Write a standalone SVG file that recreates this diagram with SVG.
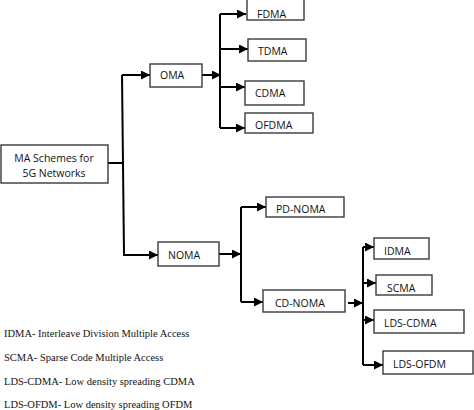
<svg xmlns="http://www.w3.org/2000/svg" width="474" height="410" viewBox="0 0 474 410">
<defs>
<marker id="ah" markerUnits="userSpaceOnUse" markerWidth="9" markerHeight="9" viewBox="0 0 9 9" refX="9" refY="4.5" orient="auto">
<path d="M0,0 L9,4.5 L0,9 Z" fill="#000"/>
</marker>
</defs>
<style>
.box{fill:#fff;stroke:#3a3a3a;stroke-width:1.4}
.lbl{font-family:"Open Sans","Liberation Sans",sans-serif;font-size:10.5px;fill:#111}
.leg{font-family:"Liberation Serif",serif;font-size:10.5px;fill:#111}
.ln{stroke:#000;stroke-width:2;fill:none}
.ar{stroke:#000;stroke-width:2;fill:none;marker-end:url(#ah)}
</style>
<rect width="474" height="410" fill="#fff"/>
<g id="connectors">
<path class="ln" d="M108,163 H123"/>
<path class="ln" d="M122,75 L124,255"/>
<path class="ar" d="M122,75 H150"/>
<path class="ar" d="M123,255 H158"/>
<path class="ar" d="M202,75 H221"/>
<path class="ln" d="M220,14 V128"/>
<path class="ar" d="M220,14 H246"/>
<path class="ar" d="M220,49 H248"/>
<path class="ar" d="M220,87 H245"/>
<path class="ar" d="M220,128 H245"/>
<path class="ar" d="M219,254 H241"/>
<path class="ln" d="M241,207 V302"/>
<path class="ar" d="M241,207 H266"/>
<path class="ar" d="M241,302 H263"/>
<path class="ar" d="M348,303 H363"/>
<path class="ln" d="M363,247 V365"/>
<path class="ar" d="M363,247 H374"/>
<path class="ar" d="M363,283 H376"/>
<path class="ar" d="M363,320 H374"/>
<path class="ar" d="M363,365 H383"/>
</g>
<g id="ma"><rect class="box" x="1" y="145" width="107" height="38"/><text class="lbl" x="54" y="162" text-anchor="middle">MA Schemes for</text><text class="lbl" x="54" y="177" text-anchor="middle">5G Networks</text></g>
<g id="oma"><rect class="box" x="150" y="64" width="52" height="23"/><text class="lbl" x="160" y="79">OMA</text></g>
<g id="fdma"><rect class="box" x="247" y="-5" width="57" height="25"/><text class="lbl" x="257" y="18">FDMA</text></g>
<g id="tdma"><rect class="box" x="248" y="39" width="58" height="22"/><text class="lbl" x="258" y="55">TDMA</text></g>
<g id="cdma"><rect class="box" x="245" y="81" width="59" height="24"/><text class="lbl" x="255" y="97">CDMA</text></g>
<g id="ofdma"><rect class="box" x="245" y="113" width="68" height="20"/><text class="lbl" x="255" y="129">OFDMA</text></g>
<g id="noma"><rect class="box" x="158" y="242" width="61" height="24"/><text class="lbl" x="168" y="259">NOMA</text></g>
<g id="pdnoma"><rect class="box" x="266" y="197" width="78" height="20"/><text class="lbl" x="276" y="213">PD-NOMA</text></g>
<g id="cdnoma"><rect class="box" x="263" y="290" width="82" height="22"/><text class="lbl" x="275" y="307">CD-NOMA</text></g>
<g id="idma"><rect class="box" x="374" y="238" width="55" height="21"/><text class="lbl" x="384" y="255">IDMA</text></g>
<g id="scma"><rect class="box" x="376" y="275" width="56" height="20"/><text class="lbl" x="387" y="292">SCMA</text></g>
<g id="ldscdma"><rect class="box" x="374" y="310" width="90" height="23"/><text class="lbl" x="384" y="327">LDS-CDMA</text></g>
<g id="ldsofdm"><rect class="box" x="383" y="351" width="90" height="23"/><text class="lbl" x="393" y="368">LDS-OFDM</text></g>
<g id="legend">
<text class="leg" x="4" y="337">IDMA- Interleave Division Multiple Access</text>
<text class="leg" x="4" y="361">SCMA- Sparse Code Multiple Access</text>
<text class="leg" x="4" y="385">LDS-CDMA- Low density spreading CDMA</text>
<text class="leg" x="4" y="408">LDS-OFDM- Low density spreading OFDM</text>
</g>
</svg>
